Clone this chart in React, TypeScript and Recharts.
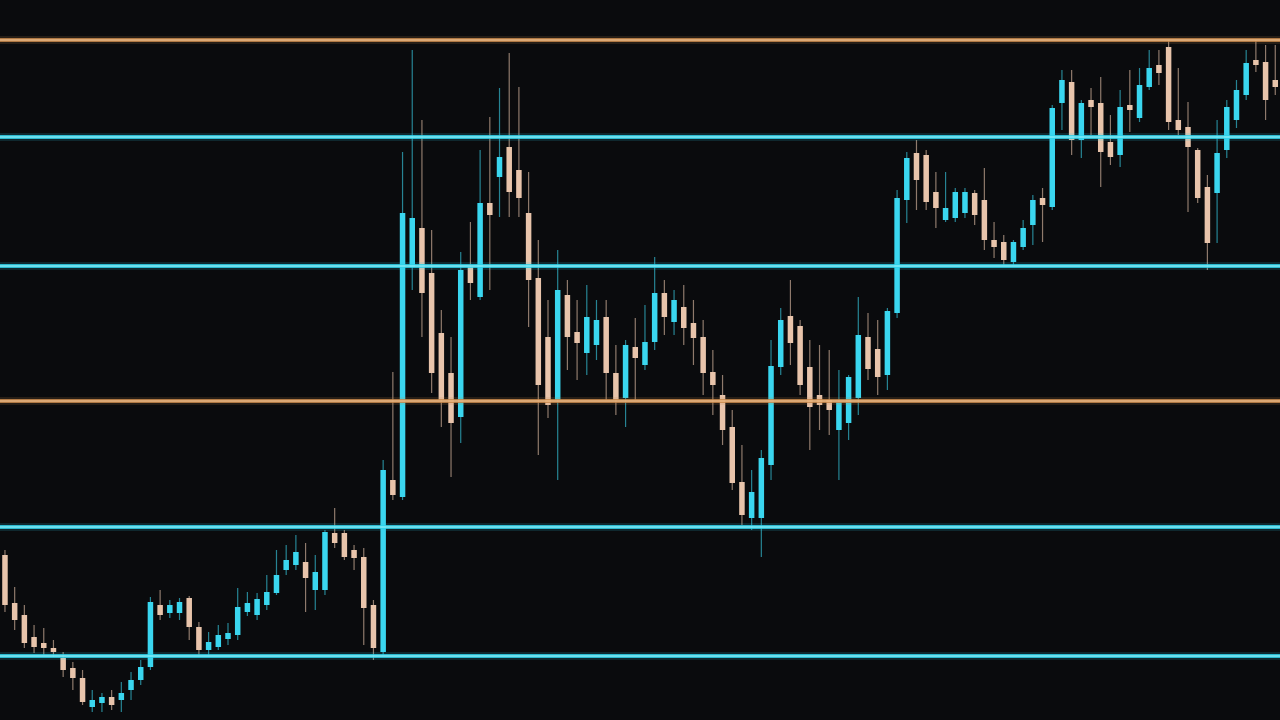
import { ComposedChart, Bar, XAxis, YAxis, ReferenceLine } from 'recharts';

// candle prices, read left to right off the picture
const opens = [
  165, 117, 105, 83, 77, 72, 62, 52, 42, 13,
  17, 23, 20, 30, 40, 53, 115, 107, 107, 122,
  93, 70, 73, 81, 85, 108, 105, 115, 127, 150,
  155, 158, 130, 130, 187, 187, 170, 163, 115, 68,
  240, 223, 453, 492, 447, 387, 347, 303, 453, 423,
  517, 543, 573, 550, 507, 442, 383, 320, 425, 388,
  367, 375, 403, 347, 322, 373, 355, 378, 427, 398,
  413, 397, 383, 348, 325, 293, 238, 202, 202, 255,
  353, 404, 394, 353, 325, 320, 290, 297, 322, 383,
  371, 345, 407, 520, 567, 565, 528, 500, 502, 507,
  527, 520, 480, 478, 458, 473, 495, 522, 513, 617,
  638, 580, 620, 617, 578, 565, 615, 602, 633, 655,
  673, 600, 593, 570, 533, 527, 570, 600, 625, 660,
  658, 640,
];

const highs = [
  170, 133, 115, 95, 92, 80, 68, 58, 50, 30,
  27, 30, 38, 48, 60, 123, 130, 120, 122, 124,
  98, 88, 95, 97, 132, 128, 127, 145, 170, 175,
  185, 177, 165, 190, 212, 190, 175, 172, 120, 260,
  348, 568, 670, 600, 490, 410, 383, 468, 498, 570,
  603, 632, 667, 633, 548, 480, 420, 470, 440, 420,
  435, 420, 420, 375, 380, 402, 415, 463, 440, 430,
  435, 420, 400, 370, 345, 310, 275, 250, 270, 380,
  412, 440, 400, 380, 375, 370, 350, 345, 423, 407,
  400, 412, 530, 568, 580, 570, 548, 548, 532, 532,
  530, 552, 498, 485, 480, 500, 525, 532, 615, 650,
  650, 620, 632, 643, 605, 630, 650, 652, 670, 670,
  680, 652, 618, 572, 545, 600, 620, 640, 670, 680,
  675, 675,
];

const lows = [
  108, 90, 72, 67, 65, 63, 43, 30, 15, 8,
  8, 10, 8, 20, 35, 50, 100, 102, 100, 80,
  65, 65, 70, 75, 80, 104, 100, 110, 125, 145,
  150, 108, 110, 125, 172, 160, 150, 75, 60, 65,
  220, 220, 430, 383, 327, 293, 243, 277, 420, 420,
  430, 503, 503, 503, 393, 265, 302, 240, 350, 340,
  345, 360, 320, 305, 293, 320, 350, 370, 385, 385,
  375, 355, 325, 305, 275, 230, 195, 190, 163, 240,
  345, 355, 325, 270, 290, 285, 240, 280, 305, 340,
  325, 330, 402, 497, 510, 510, 492, 498, 498, 502,
  495, 470, 462, 455, 455, 470, 475, 478, 510, 590,
  565, 562, 585, 533, 555, 553, 588, 598, 630, 635,
  590, 585, 508, 517, 450, 477, 562, 592, 620, 648,
  600, 625,
];

const closes = [
  115, 100, 77, 73, 72, 68, 50, 42, 18, 20,
  23, 15, 27, 40, 53, 118, 105, 115, 118, 93,
  70, 78, 85, 87, 113, 117, 121, 128, 145, 160,
  168, 142, 148, 188, 177, 163, 162, 112, 72, 250,
  225, 507, 502, 427, 347, 320, 297, 450, 437, 517,
  505, 563, 528, 522, 440, 335, 315, 430, 383, 377,
  403, 400, 347, 320, 375, 362, 378, 427, 403, 420,
  392, 382, 347, 335, 290, 237, 205, 228, 262, 354,
  400, 377, 335, 313, 315, 310, 318, 343, 385, 351,
  343, 409, 522, 562, 540, 518, 512, 512, 528, 528,
  505, 480, 473, 460, 478, 492, 520, 515, 612, 640,
  580, 617, 613, 568, 563, 613, 610, 635, 652, 647,
  598, 590, 573, 522, 477, 567, 613, 630, 657, 655,
  620, 633,
];

// horizontal support / resistance levels
const cyanLevels = [583, 454, 193, 64];
const orangeLevels = [680, 319];

const UP = '#3ad6ef';
const DOWN = '#e8c4ab';
const CYAN = '#2fd3ec';
const CYAN_CORE = '#8ef0fb';
const ORANGE = '#c98a4c';
const ORANGE_CORE = '#f0c08c';

const data = opens.map((open, i) => ({
  i,
  open,
  high: highs[i],
  low: lows[i],
  close: closes[i],
  range: [lows[i], highs[i]],
}));

const Candle = (props: any) => {
  const { x, y, width, height, payload } = props;
  if (!payload) return null;
  const { open, close, high, low } = payload;
  const h = Math.abs(height);
  const top = height < 0 ? y + height : y;
  const k = high > low ? h / (high - low) : 0;
  const py = (v: number) => top + (high - v) * k;
  const up = close >= open;
  const color = up ? UP : DOWN;
  const cx = x + width / 2;
  const bodyTop = py(Math.max(open, close));
  const bodyH = Math.max(py(Math.min(open, close)) - bodyTop, 2);
  const bw = 5.5;
  return (
    <g>
      <line x1={cx} x2={cx} y1={top} y2={top + h} stroke={color} strokeWidth={1.2} strokeOpacity={0.6} />
      <rect x={cx - bw / 2} y={bodyTop} width={bw} height={bodyH} fill={color} />
    </g>
  );
};

const glowLines = (levels: number[], outer: string, core: string) =>
  levels.flatMap((v) => [
    <ReferenceLine key={`g${v}`} y={v} stroke={outer} strokeWidth={8} strokeOpacity={0.15} />,
    <ReferenceLine key={`m${v}`} y={v} stroke={outer} strokeWidth={4} strokeOpacity={0.85} />,
    <ReferenceLine key={`c${v}`} y={v} stroke={core} strokeWidth={1.4} strokeOpacity={0.9} />,
  ]);

export default function App() {
  return (
    <div style={{ position: 'fixed', left: 0, top: 0, width: 1280, height: 720, background: '#0a0b0d' }}>
      <ComposedChart width={1280} height={720} data={data} margin={{ top: 0, right: 0, bottom: 0, left: 0 }}>
        <XAxis dataKey="i" hide />
        <YAxis type="number" domain={[0, 720]} hide allowDataOverflow />
        <Bar dataKey="range" shape={<Candle />} isAnimationActive={false} />
        {glowLines(cyanLevels, CYAN, CYAN_CORE)}
        {glowLines(orangeLevels, ORANGE, ORANGE_CORE)}
      </ComposedChart>
    </div>
  );
}
